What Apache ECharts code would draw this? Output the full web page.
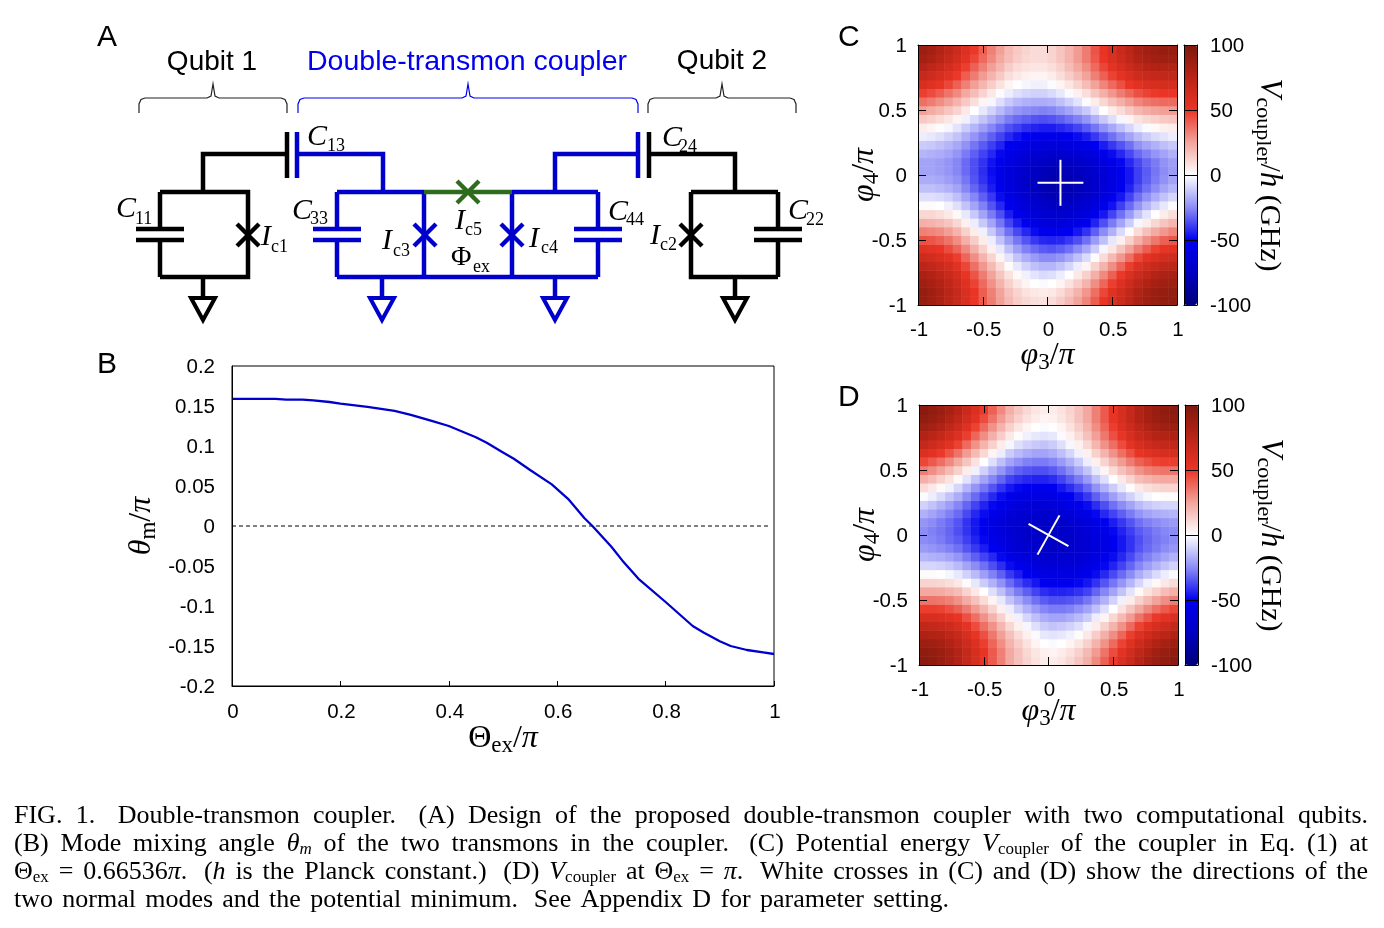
<!DOCTYPE html>
<html><head><meta charset="utf-8">
<style>html,body{margin:0;padding:0;background:#fff}#c{width:1384px;height:928px}</style>
<script src="https://cdn.jsdelivr.net/npm/echarts@6/dist/echarts.min.js"></script>
</head><body><div id="c"></div>
<script>
// Panel B: mode mixing angle
const thetaEx = [0,.05,.08,.1,.13,.15,.18,.2,.25,.3,.33,.37,.4,.45,.47,.5,.52,.55,.59,.62,.65,.665,.7,.72,.75,.8,.85,.87,.9,.92,.95,.98,1];
const thetaM = [.159,.159,.159,.158,.158,.157,.155,.153,.149,.144,.139,.131,.125,.111,.104,.092,.084,.07,.052,.034,.01,0,-.026,-.043,-.066,-.095,-.125,-.133,-.144,-.15,-.155,-.158,-.16];
const dashX = [0,.99];
const dashY = [0,0];
// Panels C and D: potential read cell by cell, rows run from phi4=-1 up to phi4=+1
const heatC = [
[90,86,81,75,68,59,50,42,34,26,19,14,11,9,8,10,14,19,25,32,41,50,58,66,74,81,86,89,91,92],
[90,86,81,75,68,59,50,41,33,25,17,12,8,6,5,6,10,15,21,28,37,46,55,63,71,79,84,88,90,91],
[86,83,78,72,65,56,47,38,29,21,13,7,3,0,-1,0,3,8,14,21,30,39,48,57,65,73,79,83,86,87],
[81,78,74,68,61,52,43,34,25,16,8,2,-3,-6,-8,-7,-4,0,6,13,22,31,40,49,58,66,72,77,80,82],
[74,71,67,62,55,46,37,28,19,10,1,-5,-10,-14,-16,-16,-13,-9,-4,3,12,21,30,39,48,57,63,68,72,74],
[65,63,59,54,48,39,30,21,12,3,-6,-13,-18,-22,-25,-25,-23,-19,-14,-8,1,10,19,28,37,46,53,58,62,65],
[55,53,50,45,39,31,22,13,4,-5,-14,-21,-27,-31,-34,-35,-33,-30,-25,-19,-11,-2,7,16,25,34,41,47,51,54],
[44,43,40,36,30,22,14,5,-4,-13,-22,-29,-35,-40,-43,-44,-43,-40,-36,-30,-22,-14,-5,4,13,22,29,35,40,43],
[33,32,30,26,21,13,5,-3,-12,-21,-30,-37,-43,-48,-52,-53,-52,-50,-46,-41,-33,-25,-17,-8,1,10,17,23,28,32],
[22,21,19,16,11,4,-4,-12,-20,-29,-38,-45,-51,-56,-60,-62,-61,-59,-56,-51,-44,-36,-28,-20,-11,-2,5,11,16,20],
[11,11,9,6,2,-5,-12,-20,-28,-36,-45,-52,-58,-63,-67,-69,-69,-67,-64,-60,-53,-46,-38,-30,-22,-13,-6,0,5,9],
[1,1,0,-3,-7,-13,-20,-27,-35,-43,-51,-58,-64,-69,-73,-75,-75,-74,-71,-67,-61,-54,-47,-39,-31,-23,-16,-10,-5,-1],
[-7,-7,-8,-10,-14,-20,-26,-33,-40,-48,-56,-62,-68,-73,-77,-79,-79,-78,-76,-72,-66,-60,-53,-46,-38,-30,-24,-18,-13,-9],
[-14,-14,-15,-17,-20,-26,-32,-38,-45,-52,-60,-66,-71,-76,-80,-82,-82,-81,-79,-76,-70,-64,-58,-51,-44,-36,-30,-25,-20,-16],
[-18,-18,-19,-21,-24,-29,-35,-41,-47,-54,-61,-67,-72,-76,-80,-82,-82,-81,-79,-76,-71,-65,-59,-53,-46,-39,-33,-28,-24,-20],
[-20,-20,-21,-23,-26,-31,-36,-42,-48,-54,-61,-66,-71,-75,-78,-80,-80,-79,-77,-74,-69,-64,-58,-52,-46,-39,-34,-29,-25,-22],
[-20,-20,-21,-23,-26,-31,-36,-41,-47,-53,-59,-64,-68,-72,-75,-76,-76,-75,-73,-70,-65,-60,-55,-49,-43,-37,-32,-28,-24,-21],
[-16,-17,-18,-20,-23,-28,-33,-38,-43,-49,-55,-59,-63,-66,-69,-70,-69,-68,-66,-63,-58,-53,-48,-43,-37,-31,-27,-23,-20,-17],
[-11,-12,-14,-16,-19,-24,-29,-34,-39,-44,-50,-54,-57,-60,-62,-63,-62,-60,-58,-55,-50,-45,-40,-35,-30,-24,-20,-17,-14,-12],
[-4,-5,-7,-10,-13,-18,-23,-28,-33,-38,-43,-47,-50,-52,-54,-54,-53,-51,-48,-45,-40,-35,-30,-25,-20,-15,-11,-8,-6,-4],
[5,3,1,-2,-6,-11,-16,-21,-26,-31,-36,-39,-42,-44,-45,-45,-43,-41,-38,-34,-29,-24,-19,-14,-9,-4,-1,2,4,5],
[15,13,10,7,3,-3,-8,-13,-18,-23,-28,-31,-33,-35,-36,-35,-33,-30,-27,-23,-17,-12,-7,-2,3,8,11,13,15,16],
[26,23,20,16,12,6,0,-5,-10,-15,-20,-23,-25,-26,-27,-26,-23,-20,-16,-12,-6,0,5,10,15,20,23,25,26,27],
[37,34,30,26,21,15,9,3,-2,-7,-12,-15,-17,-18,-18,-17,-14,-10,-6,-1,5,11,17,22,27,32,35,37,38,38],
[48,45,41,36,31,24,18,12,6,1,-4,-7,-9,-10,-10,-8,-5,-1,4,9,16,22,28,34,39,44,47,49,50,50],
[59,55,51,46,40,33,26,20,14,8,3,0,-2,-3,-3,-1,3,7,12,18,25,32,38,44,50,55,58,60,61,61],
[69,65,60,55,49,41,34,27,21,15,9,6,4,3,3,5,9,14,19,25,33,40,47,53,59,65,68,70,71,71],
[77,73,68,62,56,48,40,33,26,20,14,10,8,7,7,9,13,18,24,30,38,46,53,60,66,72,76,78,79,79],
[84,80,75,69,62,54,46,38,31,24,18,14,11,10,10,12,16,21,27,34,42,50,58,65,72,78,82,85,86,86],
[88,84,79,73,66,57,49,41,33,26,19,15,12,10,10,12,16,21,27,34,43,51,59,67,74,81,85,88,90,90]
];
const heatD = [
[95,93,89,84,78,69,60,51,42,33,24,17,12,8,5,5,7,11,16,22,31,40,49,58,67,76,83,88,92,95],
[93,91,88,83,77,69,60,51,42,33,24,17,11,7,4,3,5,8,13,19,27,36,45,54,63,72,79,85,89,92],
[87,86,83,79,73,65,57,48,39,30,21,14,8,3,0,-1,0,3,7,13,21,29,38,47,56,65,72,78,83,86],
[80,79,77,73,68,60,52,44,35,26,17,10,4,-1,-5,-6,-5,-3,1,6,14,22,30,39,48,57,64,70,75,79],
[71,70,68,65,60,53,45,37,29,20,11,4,-2,-7,-11,-13,-12,-10,-7,-2,5,13,21,29,38,47,54,60,65,69],
[60,60,58,55,51,44,37,29,21,13,4,-3,-9,-14,-18,-20,-20,-18,-15,-11,-4,3,11,19,27,36,43,49,54,58],
[48,48,47,44,40,34,27,20,12,4,-4,-11,-17,-22,-26,-28,-28,-27,-24,-20,-14,-7,0,8,16,24,31,37,42,46],
[36,36,35,33,29,23,17,10,3,-5,-13,-19,-25,-30,-34,-36,-36,-35,-33,-29,-23,-17,-10,-3,5,13,19,25,30,34],
[24,24,23,21,18,12,6,0,-7,-14,-22,-28,-33,-38,-42,-44,-44,-43,-41,-38,-32,-26,-20,-13,-6,2,8,13,18,22],
[12,12,11,9,6,1,-5,-11,-17,-24,-31,-37,-42,-46,-50,-52,-52,-51,-49,-46,-41,-35,-29,-23,-16,-9,-3,2,6,10],
[1,1,0,-2,-5,-10,-15,-21,-27,-33,-40,-45,-50,-54,-57,-59,-59,-58,-56,-53,-48,-43,-37,-31,-25,-18,-13,-8,-4,-1],
[-9,-9,-10,-12,-15,-20,-25,-30,-36,-42,-48,-53,-57,-61,-64,-65,-65,-64,-62,-59,-54,-49,-44,-38,-32,-26,-21,-17,-13,-10],
[-16,-17,-18,-20,-23,-28,-33,-38,-43,-49,-55,-59,-63,-66,-69,-70,-69,-68,-66,-63,-58,-53,-48,-43,-37,-31,-27,-23,-20,-17],
[-22,-23,-25,-27,-30,-35,-40,-45,-50,-55,-61,-65,-68,-71,-73,-74,-73,-71,-69,-66,-61,-56,-51,-46,-41,-35,-31,-28,-25,-23],
[-25,-26,-28,-31,-34,-39,-44,-49,-54,-59,-64,-68,-71,-73,-75,-75,-74,-72,-69,-66,-61,-56,-51,-46,-41,-36,-32,-29,-27,-25],
[-25,-27,-29,-32,-36,-41,-46,-51,-56,-61,-66,-69,-72,-74,-75,-75,-73,-71,-68,-64,-59,-54,-49,-44,-39,-34,-31,-28,-26,-25],
[-23,-25,-28,-31,-35,-41,-46,-51,-56,-61,-66,-69,-71,-73,-74,-73,-71,-68,-65,-61,-55,-50,-45,-40,-35,-30,-27,-25,-23,-22],
[-17,-20,-23,-27,-31,-37,-43,-48,-53,-58,-63,-66,-68,-69,-70,-69,-66,-63,-59,-55,-49,-43,-38,-33,-28,-23,-20,-18,-17,-16],
[-10,-13,-17,-21,-26,-32,-38,-44,-49,-54,-59,-62,-64,-65,-65,-64,-61,-57,-53,-48,-42,-36,-30,-25,-20,-15,-12,-10,-9,-9],
[-1,-4,-8,-13,-18,-25,-31,-37,-43,-48,-53,-56,-58,-59,-59,-57,-54,-50,-45,-40,-33,-27,-21,-15,-10,-5,-2,0,1,1],
[10,6,2,-3,-9,-16,-23,-29,-35,-41,-46,-49,-51,-52,-52,-50,-46,-42,-37,-31,-24,-17,-11,-5,1,6,9,11,12,12],
[22,18,13,8,2,-6,-13,-20,-26,-32,-38,-41,-43,-44,-44,-42,-38,-33,-28,-22,-14,-7,0,6,12,18,21,23,24,24],
[34,30,25,19,13,5,-3,-10,-17,-23,-29,-33,-35,-36,-36,-34,-30,-25,-19,-13,-5,3,10,17,23,29,33,35,36,36],
[46,42,37,31,24,16,8,0,-7,-14,-20,-24,-27,-28,-28,-26,-22,-17,-11,-4,4,12,20,27,34,40,44,47,48,48],
[58,54,49,43,36,27,19,11,3,-4,-11,-15,-18,-20,-20,-18,-14,-9,-3,4,13,21,29,37,44,51,55,58,60,60],
[69,65,60,54,47,38,29,21,13,5,-2,-7,-10,-12,-13,-11,-7,-2,4,11,20,29,37,45,53,60,65,68,70,71],
[79,75,70,64,57,48,39,30,22,14,6,1,-3,-5,-6,-5,-1,4,10,17,26,35,44,52,60,68,73,77,79,80],
[86,83,78,72,65,56,47,38,29,21,13,7,3,0,-1,0,3,8,14,21,30,39,48,57,65,73,79,83,86,87],
[92,89,85,79,72,63,54,45,36,27,19,13,8,5,3,4,7,11,17,24,33,42,51,60,69,77,83,88,91,93],
[95,92,88,83,76,67,58,49,40,31,22,16,11,7,5,5,8,12,17,24,33,42,51,60,69,78,84,89,93,95]
];
// White crosses: [phi3, phi4] end points
const crossC1 = [[-.077,-.06],[.277,-.06]];
const crossC2 = [[.1,-.237],[.1,.117]];
const crossD1 = [[-.154,.085],[.154,-.085]];
const crossD2 = [[-.085,-.151],[.085,.151]];
const heatColors = ['#00007a','#0000c4','#0000f0','#8c8cf6','#ffffff','#f2a49c','#ea3526','#b92517','#7e180c'];
const captionLines = [
 'FIG. 1.  Double-transmon coupler.  (A) Design of the proposed double-transmon coupler with two computational qubits.',
 '(B) Mode mixing angle *θ*_{*m*} of the two transmons in the coupler.  (C) Potential energy *V*_{coupler} of the coupler in Eq. (1) at',
 'Θ_{ex} = 0.66536*π*.  (*h* is the Planck constant.)  (D) *V*_{coupler} at Θ_{ex} = *π*.  White crosses in (C) and (D) show the directions of the',
 'two normal modes and the potential minimum.  See Appendix D for parameter setting.'
];

const SANS='"Liberation Sans"', SERIF='"Liberation Serif"';
const grids=[],xAxes=[],yAxes=[],series=[],graphic=[];
const addGrid=(l,t,w,h,extra)=>{grids.push(Object.assign({left:l,top:t,width:w,height:h},extra||{}));return grids.length-1;};
const tickLabel={color:'#000',fontFamily:SANS,fontSize:20.5};
function vAxis(list,gridIndex,min,max,interval,o){
  o=o||{};
  list.push({type:'value',gridIndex,min,max,interval,position:o.position,z:o.z==null?5:o.z,
    splitLine:{show:false},
    axisLine:{show:true,onZero:false,lineStyle:{color:'#000',width:1}},
    axisTick:{show:o.tick!==false,inside:true,length:o.tickLen||7,lineStyle:{color:o.tickColor||'#000',width:1}},
    axisLabel:Object.assign({show:!!o.label,margin:o.margin||12,padding:o.pad||0},o.vtop?{verticalAlign:'top'}:{},tickLabel),
    name:o.name,nameLocation:'middle',nameGap:o.nameGap,nameRotate:o.nameRotate,nameMoveOverlap:false,
    nameTextStyle:o.rich?{rich:o.rich}:undefined});
  return list.length-1;
}
const mathRich={
  a:{fontFamily:SERIF,fontSize:32,fontStyle:'italic',lineHeight:36,color:'#000'},
  u:{fontFamily:SERIF,fontSize:32,lineHeight:36,color:'#000'},
  s:{fontFamily:SERIF,fontSize:23,lineHeight:18,verticalAlign:'bottom',color:'#000'}
};
const barRich={
  a:{fontFamily:SERIF,fontSize:31,fontStyle:'italic',lineHeight:34,color:'#000'},
  u:{fontFamily:SERIF,fontSize:30,lineHeight:34,color:'#000'},
  s:{fontFamily:SERIF,fontSize:22,lineHeight:16,verticalAlign:'bottom',color:'#000'}
};
const PADY=[-9,0,0,0],PADX=[0,0,0,2];
// Panel B
const gB=addGrid(232,366,542,320,{show:true,borderColor:'#000',borderWidth:1});
const xB=vAxis(xAxes,gB,0,1,.2,{label:true,margin:16,tickLen:5,pad:PADX,name:'{u|Θ}{s|ex}{u|/}{a|π}',nameGap:35,rich:mathRich});
const yB=vAxis(yAxes,gB,-.2,.2,.05,{label:true,margin:17,tick:false,vtop:true,pad:PADY,name:'{a|θ}{s|m}{u|/}{a|π}',nameGap:72,nameRotate:90,rich:mathRich});
series.push({type:'line',xAxisIndex:xB,yAxisIndex:yB,data:thetaEx.map((x,i)=>[x,thetaM[i]]),showSymbol:false,smooth:false,lineStyle:{color:'#0000cc',width:2.3},silent:true,z:4});
series.push({type:'line',xAxisIndex:xB,yAxisIndex:yB,data:dashX.map((x,i)=>[x,dashY[i]]),showSymbol:false,lineStyle:{color:'#000',width:1,type:[4,3]},silent:true,z:3});

const cells=heatC[0].map((_,i)=>String(i));
const visualMaps=[];
function heatPanel(left,top,rows,nameGapX,crosses,cbLeft){
  const sizeX=259,sizeY=260;
  const g0=addGrid(left+.5,top+.5,sizeX-.5,sizeY-.5);
  const cx=xAxes.push({type:'category',gridIndex:g0,data:cells,show:false})-1;
  const cy=yAxes.push({type:'category',gridIndex:g0,data:cells,show:false})-1;
  const data=[];rows.forEach((r,j)=>r.forEach((v,i)=>data.push([i,j,v])));
  const idx=series.push({type:'heatmap',xAxisIndex:cx,yAxisIndex:cy,data,silent:true,progressive:0,emphasis:{disabled:true},z:2})-1;
  visualMaps.push({type:'continuous',min:-100,max:100,seriesIndex:idx,left:cbLeft,top,itemWidth:13,itemHeight:sizeY,padding:0,text:null,calculable:false,hoverLink:false,z:1,inRange:{color:heatColors},textStyle:{color:'rgba(0,0,0,0)'}});
  // value axes drawn over the cells
  const g1=addGrid(left,top,sizeX,sizeY);
  const x1=vAxis(xAxes,g1,-1,1,.5,{position:'bottom',label:true,margin:15,tickLen:8,pad:PADX,name:'{a|φ}{s|3}{u|/}{a|π}',nameGap:nameGapX,rich:mathRich});
  vAxis(xAxes,g1,-1,1,.5,{position:'top',tickLen:8});
  const y1=vAxis(yAxes,g1,-1,1,.5,{position:'left',label:true,margin:11,tickLen:8,vtop:true,pad:PADY,name:'{a|φ}{s|4}{u|/}{a|π}',nameGap:35,nameRotate:90,rich:mathRich});
  vAxis(yAxes,g1,-1,1,.5,{position:'right',tickLen:8});
  crosses.forEach(c=>series.push({type:'line',xAxisIndex:x1,yAxisIndex:y1,data:c,showSymbol:false,lineStyle:{color:'#fff',width:2},silent:true,z:6}));
  // colour bar axes
  const g2=addGrid(cbLeft,top,13,sizeY);
  vAxis(xAxes,g2,0,1,1,{position:'bottom',tick:false});
  vAxis(xAxes,g2,0,1,1,{position:'top',tick:false});
  vAxis(yAxes,g2,-100,100,50,{position:'left',tick:false});
  vAxis(yAxes,g2,-100,100,50,{position:'right',label:true,margin:13,tickLen:13,vtop:true,pad:PADY,name:'{a|V}{s|coupler}{u|/}{a|h}{u| (GHz)}',nameGap:55,nameRotate:-90,rich:barRich});
}
heatPanel(918,45,heatC,33,[crossC1,crossC2],1184);
heatPanel(919,405,heatD,29,[crossD1,crossD2],1185);

// Panel A schematic
const BLK='#000',BLU='#0000cc',GRN='#2e6b1e';
const wire=(pts,c,w)=>graphic.push({type:'polyline',silent:true,shape:{points:pts},style:{stroke:c,lineWidth:w||4.5,fill:null,lineJoin:'miter'}});
const cross=(x,y,c)=>{wire([[x-11,y-11],[x+11,y+11]],c);wire([[x-11,y+11],[x+11,y-11]],c);};
const ground=(x,c)=>{wire([[x,277],[x,297]],c);graphic.push({type:'polygon',silent:true,shape:{points:[[x-12,298],[x+12,298],[x,320]]},style:{stroke:c,lineWidth:4,fill:null}});};
const capacitor=(x,c,half)=>{wire([[x-half,229],[x+half,229]],c);wire([[x-half,240],[x+half,240]],c);wire([[x,192],[x,229]],c);wire([[x,240],[x,277]],c);};
const text=(t,x,y,font,fill,align)=>graphic.push({type:'text',silent:true,x,y,style:{text:t,font,fill:fill||'#000',align:align||'left',verticalAlign:'middle'}});
const brace=(l,r,c)=>{const m=(l+r)/2;wire([[l,113],[l,104],[l+2,99.5],[l+6,98],[m-6,98],[m-2,96],[m,84],[m+2,96],[m+6,98],[r-6,98],[r-2,99.5],[r,104],[r,113]],c,1.2);};
brace(139,287,'#222');brace(298,638,'#0000ee');brace(648,796,'#222');
// left qubit
wire([[160,192],[248,192],[248,277],[160,277]],BLK);capacitor(160,BLK,24);
wire([[203,192],[203,154],[287,154]],BLK);wire([[287,132],[287,178]],BLK);
cross(248,235,BLK);ground(203,BLK);
// coupler
wire([[297,132],[297,178]],BLU);wire([[297,154],[383,154],[383,192]],BLU);
wire([[337,192],[424,192]],BLU);wire([[512,192],[598,192]],BLU);
wire([[337,277],[598,277]],BLU);wire([[424,192],[424,277]],BLU);wire([[512,192],[512,277]],BLU);
capacitor(337,BLU,24);capacitor(598,BLU,24);
wire([[555,192],[555,154],[638,154]],BLU);wire([[638,132],[638,178]],BLU);
wire([[424,192],[512,192]],GRN);cross(468,192,GRN);
cross(425,235,BLU);cross(512,235,BLU);ground(382,BLU);ground(555,BLU);
// right qubit
wire([[691,192],[778,192]],BLK);wire([[691,192],[691,277],[778,277]],BLK);capacitor(778,BLK,24);
wire([[649,132],[649,178]],BLK);wire([[649,154],[735,154],[735,192]],BLK);
cross(691,235,BLK);ground(735,BLK);
// labels
const IT='italic 30px '+SERIF, SUB='18px '+SERIF;
[['C','11',116,209,135,219],['I','c1',261,237,271,247],['C','13',307,137,327,146],['C','33',292,211,310,219],
 ['I','c3',382,241,393,251],['I','c5',455,221,465,230],['C','44',608,212,626,220],['I','c4',529,239,541,248],
 ['I','c2',650,236,660,245],['C','22',788,211,806,220],['C','24',662,138,679,147]
].forEach(l=>{text(l[0],l[2],l[3],IT);text(l[1],l[4],l[5],SUB);});
text('Φ',451,258,'28px '+SERIF);text('ex',473,267,SUB);
const H='30px '+SANS;
text('A',97,38,H);text('B',97,365,H);text('C',838,38,H);text('D',838,398,H);
text('Qubit 1',212,62,'28px '+SANS,'#000','center');
text('Double-transmon coupler',467,62,'28.5px '+SANS,'#0000ee','center');
text('Qubit 2',722,61,'28px '+SANS,'#000','center');

// Caption, justified word by word; a double space gets a wider gap
const mctx=document.createElement('canvas').getContext('2d');
const CAPSZ=26,CAPSUB=17;
function wordParts(w){
  const out=[];
  w.split(/(_\{(?:\*?[^}]*\*?)\}|\*[^*]+\*)/).filter(Boolean).forEach(p=>{
    let sub=false,it=false;
    if(p.startsWith('_{')){sub=true;p=p.slice(2,-1);}
    if(p.startsWith('*')){it=true;p=p.replace(/\*/g,'');}
    const font=(it?'italic ':'')+(sub?CAPSUB:CAPSZ)+'px '+SERIF;
    mctx.font=font;out.push({t:p,font,sub,w:mctx.measureText(p).width});
  });
  return out;
}
const capWidths=[1354,1354,1354,935],capY=[816,844,872,900];
captionLines.forEach((line,n)=>{
  const raw=line.split(' ');
  const words=[],extra=[];
  raw.forEach(r=>{if(r===''){extra[words.length-1]=1;}else{words.push(wordParts(r));}});
  const widths=words.map(ps=>ps.reduce((s,p)=>s+p.w,0));
  let units=words.length-1;
  extra.forEach(e=>{if(e)units+=.7;});
  const gap=(capWidths[n]-widths.reduce((a,b)=>a+b,0))/units;
  let x=14;
  words.forEach((ps,i)=>{let xx=x;ps.forEach(p=>{text(p.t,xx,capY[n]+(p.sub?6:0),p.font);xx+=p.w;});x+=widths[i]+gap*(extra[i]?1.7:1);});
});

const chart=echarts.init(document.getElementById('c'));
chart.setOption({animation:false,backgroundColor:'#fff',grid:grids,xAxis:xAxes,yAxis:yAxes,visualMap:visualMaps,series,graphic:{elements:graphic}});
</script></body></html>
